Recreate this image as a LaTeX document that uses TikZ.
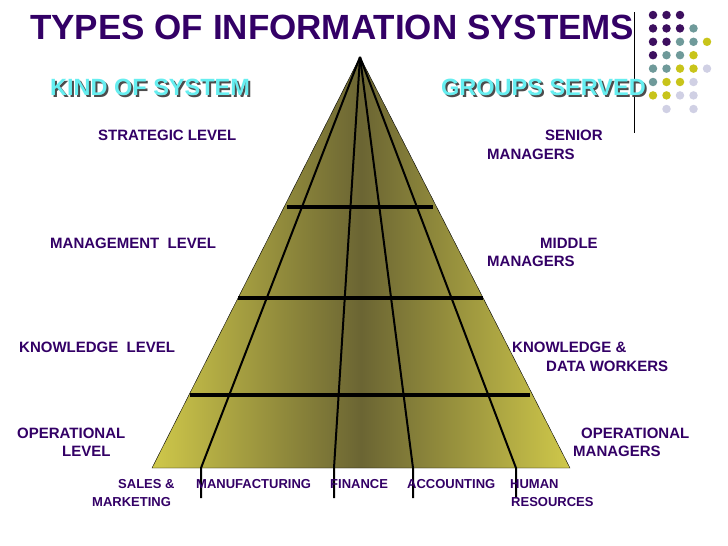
\documentclass[tikz,border=0pt]{standalone}
\usepackage{fontspec}
\setmainfont{Liberation Sans}
\begin{document}
\begin{tikzpicture}[x=1pt,y=-1pt,
  lbl/.style={anchor=west,inner sep=0pt,font=\bfseries\fontsize{15}{17}\selectfont,text=tpurple},
  blbl/.style={anchor=west,inner sep=0pt,font=\bfseries\fontsize{13}{15}\selectfont,text=tpurple},
  head/.style={anchor=west,inner sep=0pt,font=\bfseries\fontsize{23.5}{26}\selectfont,text=hcyan},
  bar/.style={line width=3.3pt,black},
  div/.style={line width=2pt,black},
  dot/.style={circle,inner sep=0pt,minimum size=8.5pt}]
\definecolor{tpurple}{HTML}{330066}
\definecolor{hcyan}{HTML}{66EEF0}
\definecolor{dP}{HTML}{3D0F5F}
\definecolor{dT}{HTML}{6F9A9A}
\definecolor{dY}{HTML}{C8C41A}
\definecolor{dL}{HTML}{D0D0E4}
\definecolor{pedge}{HTML}{CFC84A}
\definecolor{pmid}{HTML}{6B6533}
\useasboundingbox (0,0) rectangle (728,546);
% pyramid
\coordinate (apex) at (360,57);
\coordinate (bl) at (152,468);
\coordinate (br) at (570,468);
\begin{scope}
\clip (apex) -- (bl) -- (br) -- cycle;
\shade[left color=pedge,right color=pedge,middle color=pmid] (152,57) rectangle (570,468);
\end{scope}
\draw[black,line width=0.4pt] (apex) -- (bl) -- (br) -- cycle;
% horizontal bars
\coordinate (h1l) at (287,207); \coordinate (h1r) at (433,207);
\coordinate (h2l) at (238,298); \coordinate (h2r) at (483,298);
\coordinate (h3l) at (190,395); \coordinate (h3r) at (530,395);
\draw[bar] (h1l) -- (h1r);
\draw[bar] (h2l) -- (h2r);
\draw[bar] (h3l) -- (h3r);
% dividers
\coordinate (d1) at (201,498); \coordinate (d2) at (334,498);
\coordinate (d3) at (413,498); \coordinate (d4) at (516,498);
\draw[div] (apex) -- (201,468) -- (d1);
\draw[div] (apex) -- (334,468) -- (d2);
\draw[div] (apex) -- (413,468) -- (d3);
\draw[div] (apex) -- (516,468) -- (d4);
% thin line
\coordinate (t1) at (634,12); \coordinate (t2) at (634,133);
\draw[black,line width=0.8pt] (t1) -- (t2);
% title
\node[anchor=west,inner sep=0pt,font=\bfseries\fontsize{35}{38}\selectfont,text=tpurple] (title) at (30,27) {TYPES OF INFORMATION SYSTEMS};
% headers with shadow
\node[head,text=black!70] (ks) at (52,89) {KIND OF SYSTEM};
\node[head] (k) at (50,87) {KIND OF SYSTEM};
\node[head,text=black!70] (gs) at (443,89) {GROUPS SERVED};
\node[head] (g) at (441,87) {GROUPS SERVED};
% left labels
\node[lbl] (l1) at (98,135) {STRATEGIC LEVEL};
\node[lbl] (l2) at (50,243) {MANAGEMENT\ \ LEVEL};
\node[lbl] (l3) at (19,347) {KNOWLEDGE\ \ LEVEL};
\node[lbl] (l4) at (17,433) {OPERATIONAL};
\node[lbl] (l4b) at (62,451) {LEVEL};
% right labels
\node[lbl] (r1) at (545,135) {SENIOR};
\node[lbl] (r1b) at (487,154) {MANAGERS};
\node[lbl] (r2) at (540,243) {MIDDLE};
\node[lbl] (r2b) at (487,261) {MANAGERS};
\node[lbl] (r3) at (512,347) {KNOWLEDGE \&};
\node[lbl] (r3b) at (546,366) {DATA WORKERS};
\node[lbl] (r4) at (581,433) {OPERATIONAL};
\node[lbl] (r4b) at (573,451) {MANAGERS};
% bottom labels
\node[blbl] (b1) at (118,484) {SALES \&};
\node[blbl] (b1b) at (92,502) {MARKETING};
\node[blbl] (b2) at (196,484) {MANUFACTURING};
\node[blbl] (b3) at (330,484) {FINANCE};
\node[blbl] (b4) at (407,484) {ACCOUNTING};
\node[blbl] (b5) at (510,484) {HUMAN};
\node[blbl] (b5b) at (511,502) {RESOURCES};
% dots
\foreach \r/\row in {0/{P,P,P},1/{P,P,P,T},2/{P,P,T,T,Y},3/{P,T,T,Y},4/{T,T,Y,Y,L},5/{T,Y,Y,L},6/{Y,Y,L,L}}{
  \foreach \c [count=\i from 0] in \row {
    \node[dot,fill=d\c] (dot\r-\i) at (653+13.5*\i,15+13.4*\r) {};
  }
}
\node[dot,fill=dL] (dot7-1) at (666.5,109) {};
\node[dot,fill=dL] (dot7-3) at (693.5,109) {};
\end{tikzpicture}
\end{document}
